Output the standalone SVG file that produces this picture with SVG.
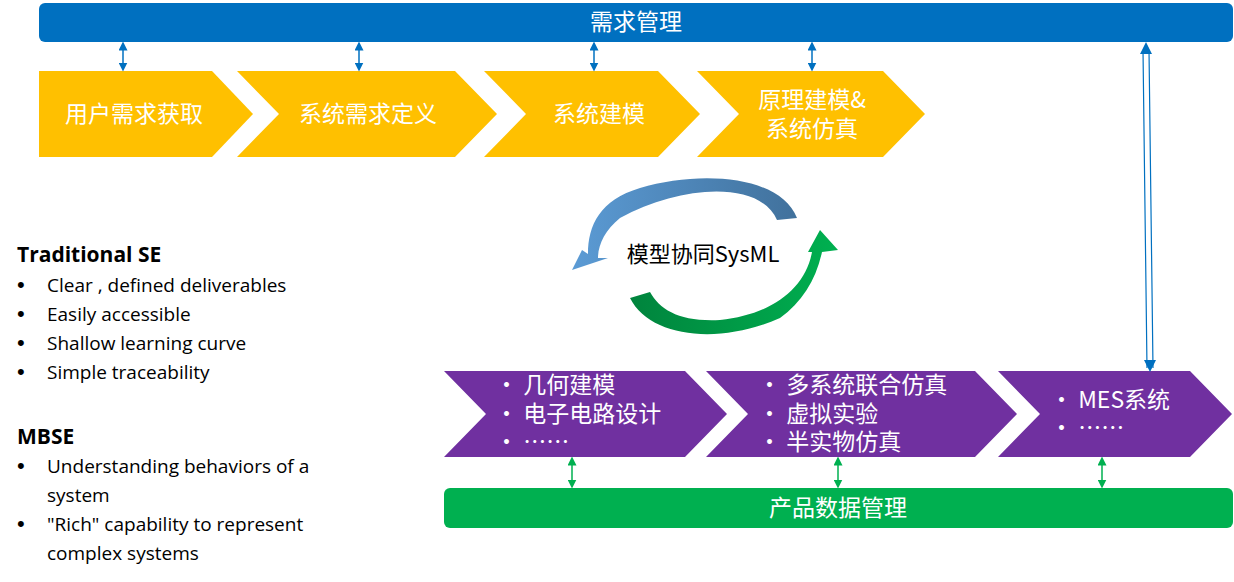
<svg xmlns="http://www.w3.org/2000/svg" width="1234" height="582" viewBox="0 0 1234 582">
<defs>
<style>
.t{font-family:"Noto Sans CJK SC","Liberation Sans",sans-serif;font-size:23px;fill:#fff}
.s{font-size:21px}
.b{font-family:"Open Sans","Noto Sans",sans-serif;font-size:19px;fill:#000}
.d{font-family:"Liberation Sans",sans-serif;font-size:22px;fill:#000}
.h{font-family:"Open Sans","Noto Sans",sans-serif;font-size:21px;font-weight:bold;fill:#000}
.y{fill:#FFC000}.p{fill:#7030A0}
.ab{stroke:#0070C0;stroke-width:1.5;fill:none;marker-start:url(#mb);marker-end:url(#mb)}
.ag{stroke:#00B050;stroke-width:1.5;fill:none;marker-start:url(#mg);marker-end:url(#mg)}
</style>
<marker id="mb" viewBox="0 0 10 10" refX="5" refY="5" markerWidth="6" markerHeight="6" orient="auto-start-reverse"><path d="M0,0L10,5L0,10z" fill="#0070C0"/></marker>
<marker id="mg" viewBox="0 0 10 10" refX="5" refY="5" markerWidth="6" markerHeight="6" orient="auto-start-reverse"><path d="M0,0L10,5L0,10z" fill="#00B050"/></marker>
<linearGradient id="gb" x1="0" y1="0" x2="1" y2="0"><stop offset="0" stop-color="#5B9BD5"/><stop offset="1" stop-color="#41719C"/></linearGradient>
<linearGradient id="gg" x1="0" y1="0" x2="1" y2="0"><stop offset="0" stop-color="#00843D"/><stop offset="1" stop-color="#00B050"/></linearGradient>
</defs>
<g id="req"><rect x="39" y="3" width="1194" height="39" rx="6" fill="#0070C0"/><text class="t" x="636" y="30" text-anchor="middle">需求管理</text></g>
<g id="pdm"><rect x="444" y="488" width="789" height="40" rx="6" fill="#00B050"/><text class="t" x="838" y="516" text-anchor="middle">产品数据管理</text></g>
<g id="y1"><polygon class="y" points="39,71 212,71 253,114 212,157 39,157"/><text class="t" x="134" y="122" text-anchor="middle">用户需求获取</text></g>
<g id="y2"><polygon class="y" points="237,71 455,71 497,114 455,157 237,157 279,114"/><text class="t" x="368" y="122" text-anchor="middle">系统需求定义</text></g>
<g id="y3"><polygon class="y" points="484,71 658,71 700,114 658,157 484,157 526,114"/><text class="t" x="599" y="122" text-anchor="middle">系统建模</text></g>
<g id="y4"><polygon class="y" points="697,71 883,71 925,114 883,157 697,157 739,114"/><text class="t" x="812" y="108" text-anchor="middle">原理建模&amp;</text><text class="t" x="812" y="137" text-anchor="middle">系统仿真</text></g>
<g id="p1"><polygon class="p" points="444,371 685,371 727,414 685,457 444,457 486,414"/><text class="t" x="495" y="393">•  几何建模</text><text class="t" x="495" y="422">•  电子电路设计</text><text class="t" x="495" y="450">•  ……</text></g>
<g id="p2"><polygon class="p" points="706,371 975,371 1017,414 975,457 706,457 748,414"/><text class="t" x="758" y="393">•  多系统联合仿真</text><text class="t" x="758" y="422">•  虚拟实验</text><text class="t" x="758" y="450">•  半实物仿真</text></g>
<g id="p3"><polygon class="p" points="998,371 1190,371 1232,414 1190,457 998,457 1040,414"/><text class="t" x="1050" y="408">•  MES系统</text><text class="t" x="1050" y="436">•  ……</text></g>
<g id="cycle">
<path d="M797,218 L777,220 C760,180 680,185 620,218 C605,230 598,245 598,258 L608,258 L572,270 L582,250 L588,254 C588,225 600,200 640,188 C700,170 780,175 797,218 Z" fill="url(#gb)"/>
<path d="M650,292 L630,298 C650,338 720,345 780,318 C802,302 816,280 822,252 L838,250 L820,230 L808,252 L812,252 C805,290 770,315 720,320 C680,322 660,310 650,292 Z" fill="url(#gg)"/>
<text x="703" y="262" text-anchor="middle" font-family="Noto Sans CJK SC,Open Sans,sans-serif" font-size="22" fill="#000">模型协同SysML</text>
</g>
<g id="notes">
<text class="h" x="17" y="262">Traditional SE</text>
<text class="d" x="17" y="292">•</text><text class="b" x="47" y="292">Clear , defined deliverables</text>
<text class="d" x="17" y="321">•</text><text class="b" x="47" y="321">Easily accessible</text>
<text class="d" x="17" y="350">•</text><text class="b" x="47" y="350">Shallow learning curve</text>
<text class="d" x="17" y="379">•</text><text class="b" x="47" y="379">Simple traceability</text>
<text class="h" x="17" y="444">MBSE</text>
<text class="d" x="17" y="473">•</text><text class="b" x="47" y="473">Understanding behaviors of a</text>
<text class="b" x="47" y="502">system</text>
<text class="d" x="17" y="531">•</text><text class="b" x="47" y="531">"Rich" capability to represent</text>
<text class="b" x="47" y="560">complex systems</text>
</g>
<g id="connectors">
<line class="ab" x1="123" y1="46" x2="123" y2="67"/>
<line class="ab" x1="359" y1="46" x2="359" y2="67"/>
<line class="ab" x1="594" y1="46" x2="594" y2="67"/>
<line class="ab" x1="812" y1="46" x2="812" y2="67"/>
<line class="ag" x1="572" y1="461" x2="572" y2="484"/>
<line class="ag" x1="838" y1="461" x2="838" y2="484"/>
<line class="ag" x1="1102" y1="461" x2="1102" y2="484"/>
<path d="M1143,50 L1147,368 M1149,50 L1153,368" stroke="#0070C0" stroke-width="1.2" fill="none"/>
<path d="M1146,42 L1140,54 L1152,54 Z M1150,372 L1144,360 L1156,360 Z" fill="#0070C0"/>
</g>
</svg>
